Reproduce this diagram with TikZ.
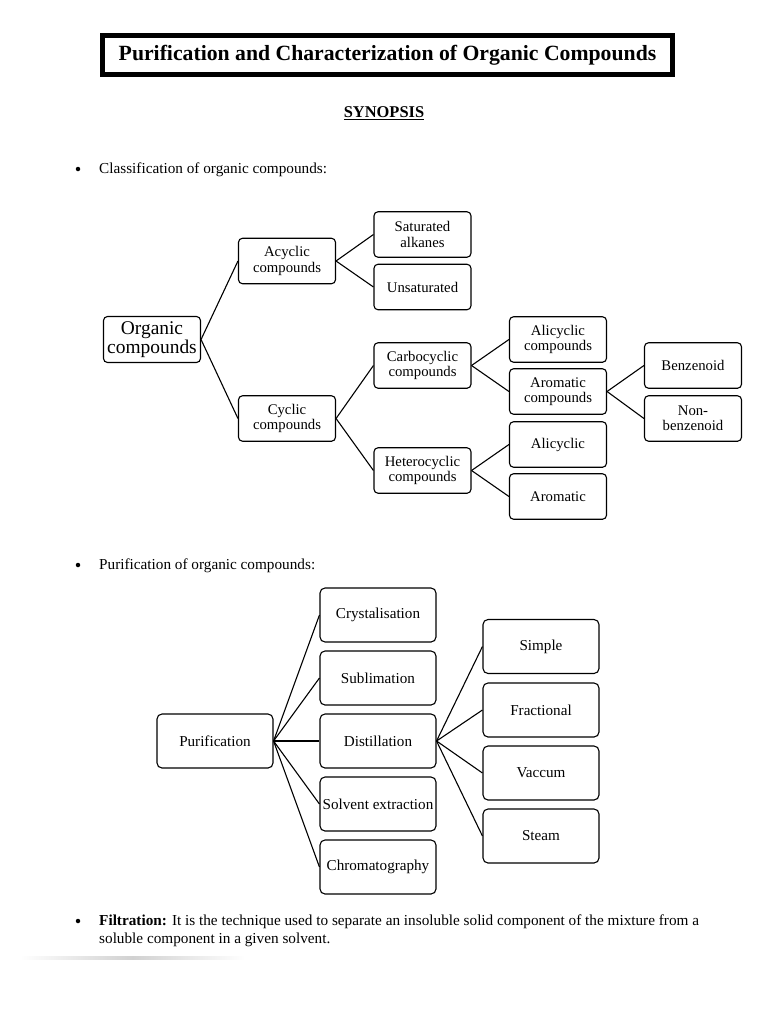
\documentclass[tikz,border=0pt]{standalone}
\usepackage{fontspec}
\setmainfont{Liberation Serif}
\begin{document}
\begin{tikzpicture}[x=1bp,y=-1bp,
  box/.style={draw, rounded corners=4bp, line width=1.1bp, inner sep=0pt, align=center,
    minimum width=97bp, minimum height=45.5bp, font=\fontsize{14.8}{15.3}\selectfont},
  pbox/.style={draw, rounded corners=5bp, line width=1.1bp, inner sep=0pt, align=center,
    minimum width=116bp, minimum height=54bp, font=\fontsize{15.2}{16}\selectfont},
  conn/.style={line width=1.1bp},
  body/.style={anchor=base west, inner sep=0pt, font=\fontsize{15.3}{18}\selectfont},
  bul/.style={circle, fill=black, inner sep=0pt, minimum size=4.5bp}
]
\useasboundingbox (0,0) rectangle (768,1024);

% title
\node[draw, line width=5bp, minimum width=570bp, minimum height=39bp, inner sep=0pt,
  font=\bfseries\fontsize{21.8}{24}\selectfont] (title) at (387.5,55)
  {Purification and Characterization of Organic Compounds};
\node[font=\bfseries\fontsize{16.5}{18}\selectfont, inner sep=0pt] (syn) at (384,113) {\underline{SYNOPSIS}};

% bullet 1
\node[bul] (b1) at (78,169) {};
\node[body] (t1) at (99,173.5) {Classification of organic compounds:};

% diagram 1
\node[box, font=\fontsize{19.5}{19.5}\selectfont, minimum height=46bp] (org) at (152,339.5) {Organic\\compounds};
\node[box] (acy) at (287,261) {Acyclic\\compounds};
\node[box] (cyc) at (287,418.5) {Cyclic\\compounds};
\node[box] (sat) at (422.5,234.5) {Saturated\\alkanes};
\node[box] (uns) at (422.5,287) {Unsaturated};
\node[box] (carb) at (422.5,365.5) {Carbocyclic\\compounds};
\node[box] (het) at (422.5,470.5) {Heterocyclic\\compounds};
\node[box] (alc1) at (558,339.5) {Alicyclic\\compounds};
\node[box] (aro1) at (558,391.5) {Aromatic\\compounds};
\node[box] (alc2) at (558,444.5) {Alicyclic};
\node[box] (aro2) at (558,496.5) {Aromatic};
\node[box] (benz) at (693,365.5) {Benzenoid};
\node[box] (nonb) at (693,418.5) {Non-\\benzenoid};

\draw[conn] (org.east) -- (acy.west);
\draw[conn] (org.east) -- (cyc.west);
\draw[conn] (acy.east) -- (sat.west);
\draw[conn] (acy.east) -- (uns.west);
\draw[conn] (cyc.east) -- (carb.west);
\draw[conn] (cyc.east) -- (het.west);
\draw[conn] (carb.east) -- (alc1.west);
\draw[conn] (carb.east) -- (aro1.west);
\draw[conn] (het.east) -- (alc2.west);
\draw[conn] (het.east) -- (aro2.west);
\draw[conn] (aro1.east) -- (benz.west);
\draw[conn] (aro1.east) -- (nonb.west);

% bullet 2
\node[bul] (b2) at (78,565) {};
\node[body] (t2) at (99,569.5) {Purification of organic compounds:};

% diagram 2
\node[pbox] (pur) at (215,741) {Purification};
\node[pbox] (cry) at (378,615) {Crystalisation};
\node[pbox] (sub) at (378,678) {Sublimation};
\node[pbox] (dis) at (378,741) {Distillation};
\node[pbox] (sol) at (378,804) {Solvent extraction};
\node[pbox] (chr) at (378,867) {Chromatography};
\node[pbox] (sim) at (541,646.5) {Simple};
\node[pbox] (fra) at (541,710) {Fractional};
\node[pbox] (vac) at (541,773) {Vaccum};
\node[pbox] (ste) at (541,836) {Steam};

\foreach \c in {cry,sub,dis,sol,chr} \draw[conn] (pur.east) -- (\c.west);
\foreach \c in {sim,fra,vac,ste} \draw[conn] (dis.east) -- (\c.west);

% bullet 3
\node[bul] (b3) at (78,921) {};
\node[body] (t3) at (99,925.5) {\textbf{Filtration:} It is the technique used to separate an insoluble solid component of the mixture from a};
\node[body] (t4) at (99,943.5) {soluble component in a given solvent.};

% faint shadow line
\shade[left color=white, right color=white, middle color=black!18] (20,956.5) rectangle (245,959);
\end{tikzpicture}
\end{document}
